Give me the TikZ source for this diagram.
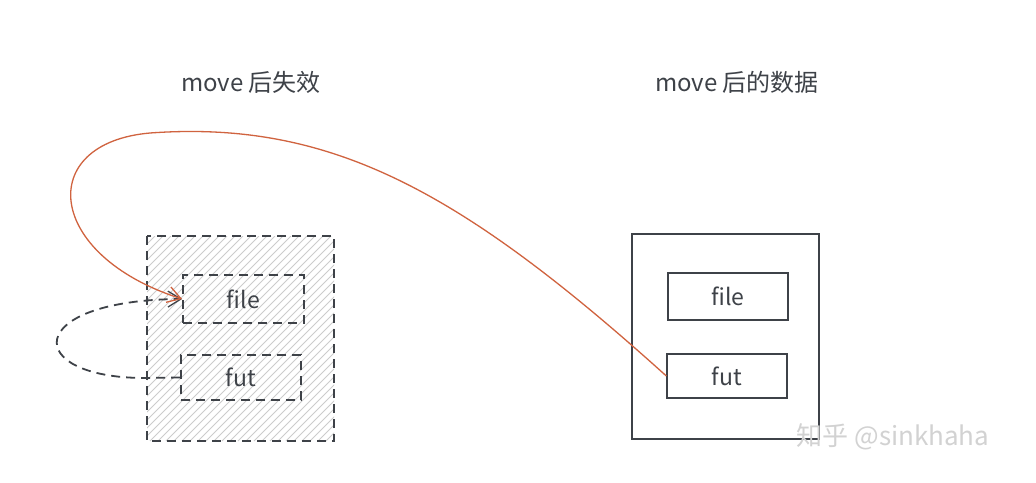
\documentclass[tikz,border=0pt]{standalone}
\usepackage{fontspec}
\setmainfont{Noto Sans CJK SC}
\usetikzlibrary{arrows.meta}
\definecolor{dk}{HTML}{3E4248}
\definecolor{rd}{HTML}{D0633F}
\begin{document}
\begin{tikzpicture}[x=1pt,y=-1pt,
  outerbox/.style={draw=dk,line width=1.3pt},
  ghost/.style={draw=dk,line width=1.8pt,dash pattern=on 9pt off 6pt},
  inbox/.style={draw=dk,line width=1.3pt,minimum width=120pt,minimum height=46pt,font=\fontsize{23}{26}\selectfont,text=dk},
  ttl/.style={font=\fontsize{24}{28}\selectfont,text=dk},
  tip/.style={-{Straight Barb[length=13pt,width=16pt,line width=1.3pt]}}]
\useasboundingbox (0,0) rectangle (1036,482);
\fill[white] (0,0) rectangle (1036,482);
\node[ttl] (t1) at (251,82) {move 后失效};
\node[ttl] (t2) at (737,82) {move 后的数据};
% left (invalid)
\begin{scope}
\clip (147,236) rectangle (334,441);
\foreach \i in {0,8,...,400} {\draw[gray!40,line width=0.8pt] (147+\i-205,441) -- (147+\i,236);}
\end{scope}
\draw[ghost] (147,236) rectangle (334,441);
\node[inbox,ghost,minimum width=121pt,minimum height=48pt] (lfile) at (243.5,299) {file};
\node[inbox,ghost,minimum width=120pt,minimum height=45pt] (lfut) at (241,377.5) {fut};
% right
\draw[outerbox] (632,234) rectangle (819,439);
\node[inbox,minimum width=120pt,minimum height=47pt] (rfile) at (728,296.5) {file};
\node[inbox,minimum width=120pt,minimum height=44pt] (rfut) at (727,376) {fut};
% dashed loop
\draw[ghost,tip] (lfut.west) -- (145,378) .. controls (22,378) and (22,300) .. (lfile.west);
% red move arrow
\draw[rd,line width=1.3pt,tip] (rfut.west) .. controls (460,190) and (330,120) .. (150,133)
  .. controls (35,143) and (45,255) .. (lfile.west);
\node[font=\fontsize{26}{30}\selectfont,text=gray!35] (wm) at (893,437) {知乎 @sinkhaha};
\end{tikzpicture}
\end{document}
